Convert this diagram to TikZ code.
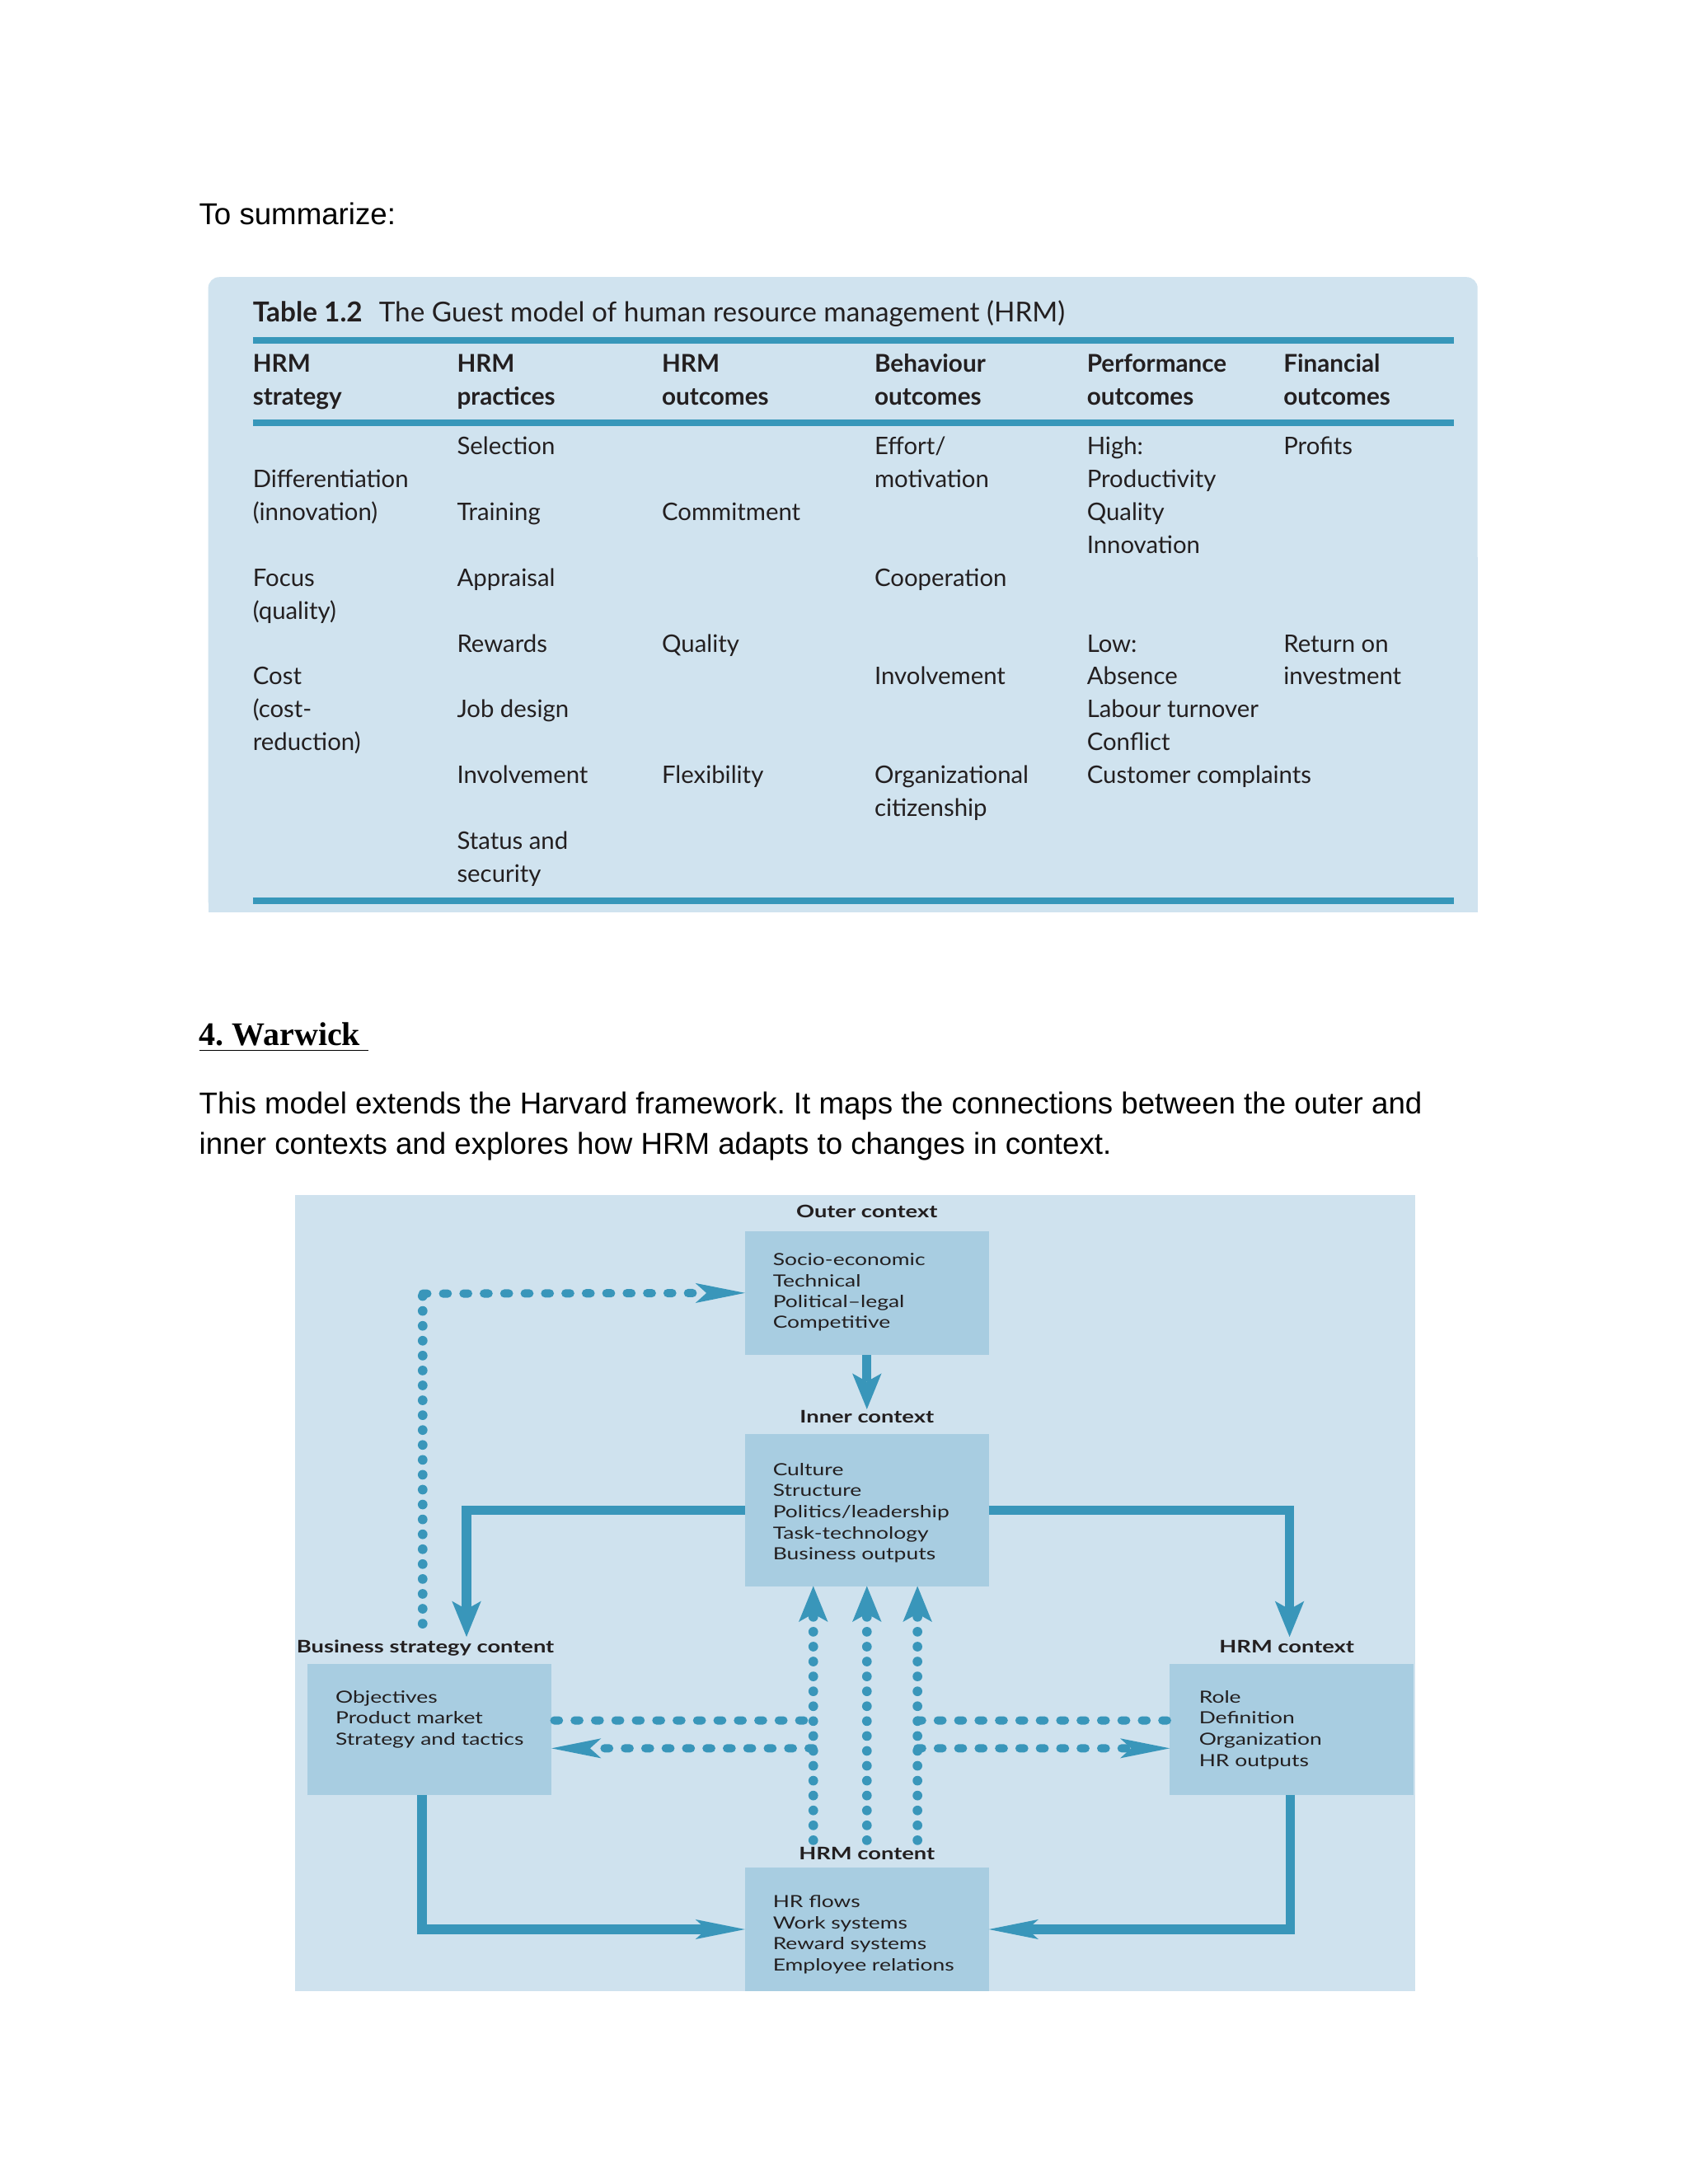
\documentclass[tikz,border=0pt]{standalone}
\usepackage{fontspec}
\setmainfont{Liberation Sans}
\newfontfamily\serifb{Liberation Serif}
\newfontfamily\tabf{Lato}
\newfontfamily\dfont[FakeStretch=1.3]{Lato}
\usetikzlibrary{arrows.meta,calc}
\frenchspacing
\definecolor{tabbg}{RGB}{208,227,239}
\definecolor{diagbg}{RGB}{207,226,238}
\definecolor{boxc}{RGB}{168,205,225}
\definecolor{linec}{RGB}{57,150,186}
\definecolor{rulec}{RGB}{55,151,186}
\definecolor{tdark}{RGB}{35,31,32}
\tikzset{
  vtip/.tip={Stealth[length=13bp,width=10.6bp,inset=3bp,line width=0pt]},
  htip/.tip={Stealth[length=18bp,width=7.2bp,inset=4bp,line width=0pt]},
}
\begin{document}
\begin{tikzpicture}[x=0.50495bp,y=-0.50495bp,
  mt/.style={inner sep=0pt, outer sep=0pt, anchor=base west, font=\fontsize{11}{13}\selectfont},
  tt/.style={inner sep=0pt, outer sep=0pt, anchor=base west, text=tdark, font=\tabf\fontsize{8.8}{11}\selectfont},
  th/.style={tt, font=\tabf\bfseries\fontsize{8.9}{11}\selectfont},
  dl/.style={inner sep=0pt, outer sep=0pt, anchor=base, text=tdark, font=\dfont\bfseries\fontsize{6.3}{7}\selectfont},
  dbox/.style={fill=boxc, inner sep=0pt, outer sep=0pt, minimum width=88.37bp},
  dtx/.style={inner sep=0pt, outer sep=0pt, anchor=base west, text=tdark, font=\dfont\fontsize{6.1}{7}\selectfont},
  sline/.style={draw=linec, line width=3.4bp},
  hdot/.style={draw=linec, line width=3bp, line cap=round, dash pattern=on 1.7bp off 5.7bp},
  vdot/.style={draw=linec, line width=3.5bp, line cap=round, dash pattern=on 0bp off 5.4bp},
  trule/.style={draw=rulec, line width=2.5bp}
]
\useasboundingbox (0,0) rectangle (1212,1568.4);
\fill[white] (0,0) rectangle (1212,1568.4);

% ---------- page text ----------
\node[mt] (summ) at (143,161) {To summarize:};
\node[mt, font=\serifb\bfseries\fontsize{12}{14}\selectfont] (warhd) at (143,751) {\underline{4. Warwick\ }};
\node[mt] (para1) at (143,800) {This model extends the Harvard framework. It maps the connections between the outer and};
\node[mt] (para2) at (143,829) {inner contexts and explores how HRM adapts to changes in context.};

% ---------- table ----------
\fill[tabbg, rounded corners=4bp] (149.5,199) rectangle (1061,655);
\fill[tabbg] (149.5,400) rectangle (1061,655);
\node[tt, font=\tabf\fontsize{10}{12}\selectfont] (ttitle) at (181.6,231)
  {\textbf{Table 1.2}\hspace{0.6em}The Guest model of human resource management (HRM)};
\draw[trule] (181.6,244.5) -- (1044,244.5);
\draw[trule] (181.6,303.8) -- (1044,303.8);
\draw[trule] (181.6,647) -- (1044,647);
\foreach \c/\a/\b [count=\n] in {181.6/HRM/strategy, 328.2/HRM/practices, 475.3/HRM/outcomes,
   628/Behaviour/outcomes, 780.5/Performance/outcomes, 921.7/Financial/outcomes}{
  \node[th] (ha\n) at (\c,267.5) {\a};
  \node[th] (hb\n) at (\c,291) {\b};
}
\foreach \c/\k/\t [count=\n] in {
  181.6/1/Differentiation, 181.6/2/(innovation), 181.6/4/Focus, 181.6/5/(quality),
  181.6/7/Cost, 181.6/8/(cost-, 181.6/9/reduction),
  328.2/0/Selection, 328.2/2/Training, 328.2/4/Appraisal, 328.2/6/Rewards,
  328.2/8/Job design, 328.2/10/Involvement, 328.2/12/Status and, 328.2/13/security,
  475.3/2/Commitment, 475.3/6/Quality, 475.3/10/Flexibility,
  628/0/{Effort/}, 628/1/motivation, 628/4/Cooperation, 628/7/Involvement,
  628/10/Organizational, 628/11/citizenship,
  780.5/0/High:, 780.5/1/Productivity, 780.5/2/Quality, 780.5/3/Innovation,
  780.5/6/Low:, 780.5/7/Absence, 780.5/8/Labour turnover, 780.5/9/Conflict,
  780.5/10/Customer complaints,
  921.7/0/Profits, 921.7/6/Return on, 921.7/7/investment}{
  \node[tt] (tb\n) at (\c,326.6+23.6*\k) {\t};
}

% ---------- Warwick diagram ----------
\fill[diagbg] (212,858) rectangle (1016,1430);

\node[dbox, minimum height=44.94bp] (outer) at (622.5,928.5) {};
\node[dbox, minimum height=55.04bp] (inner) at (622.5,1084.5) {};
\node[dbox, minimum height=47.47bp] (bsc) at (308.5,1242) {};
\node[dbox, minimum height=47.47bp] (hctx) at (927.5,1242) {};
\node[dbox, minimum height=44.94bp] (hcont) at (622.5,1385.5) {};

\node[dl] (outerlbl) at (622.5,874.5) {Outer context};
\node[dl] (innerlbl) at (622.5,1022) {Inner context};
\node[dl, anchor=base west] (bsclbl) at (213,1187) {Business strategy content};
\node[dl] (hctxlbl) at (924,1187) {HRM context};
\node[dl] (hcontlbl) at (622.5,1335.5) {HRM content};

\node[dtx] (o1) at (555,909) {Socio-economic};
\node[dtx] (o2) at (555,924) {Technical};
\node[dtx] (o3) at (555,939) {Political–legal};
\node[dtx] (o4) at (555,954) {Competitive};

\node[dtx] (i1) at (555,1059.7) {Culture};
\node[dtx] (i2) at (555,1074.7) {Structure};
\node[dtx] (i3) at (555,1089.8) {Politics/leadership};
\node[dtx] (i4) at (555,1105) {Task-technology};
\node[dtx] (i5) at (555,1120) {Business outputs};

\node[dtx] (b1) at (241,1222.8) {Objectives};
\node[dtx] (b2) at (241,1238) {Product market};
\node[dtx] (b3) at (241,1253.4) {Strategy and tactics};

\node[dtx] (h1) at (861,1222.8) {Role};
\node[dtx] (h2) at (861,1238) {Definition};
\node[dtx] (h3) at (861,1253.4) {Organization};
\node[dtx] (h4) at (861,1268.6) {HR outputs};

\node[dtx] (c1) at (555,1369.8) {HR flows};
\node[dtx] (c2) at (555,1385) {Work systems};
\node[dtx] (c3) at (555,1400) {Reward systems};
\node[dtx] (c4) at (555,1415.5) {Employee relations};

% solid connectors
\coordinate (innerin) at (622.5,1012);
\draw[sline, -{vtip}] (outer.south) -- (innerin);
\coordinate (bscin) at (335,1175.5);
\coordinate (hctxin) at (926,1175.5);
\draw[sline, -{vtip}] (inner.west) -| (bscin);
\draw[sline, -{vtip}] (inner.east) -| (hctxin);
\draw[sline, -{htip}] ($(bsc.south west)+(82,0)$) |- (hcont.west);
\draw[sline, -{htip}] ($(hctx.south west)+(86.5,0)$) |- (hcont.east);

% dotted connectors
\coordinate (dcorner) at (303.5,929);
\draw[vdot] ($(bsc.north west)+(82.5,-29)$) -- (dcorner);
\draw[hdot, -{htip}] (dcorner) -- (outer.west);
\foreach \dx in {-38.5,0,36.3}{
  \draw[vdot, -{vtip}] ($(hcontlbl.north)+(\dx,-5)$) -- ($(inner.south)+(\dx,0)$);
}
\coordinate (jl1) at (584,1235.5);
\coordinate (jl2) at (584,1255.5);
\coordinate (jr1) at (658.8,1235.5);
\coordinate (jr2) at (658.8,1255.5);
\draw[hdot] ($(bsc.north east)+(2,40.5)$) -- (jl1);
\draw[hdot, -{htip}] (jl2) -- ($(bsc.north east)+(0,60.5)$);
\draw[hdot] ($(hctx.north west)+(-2,40.5)$) -- (jr1);
\draw[hdot, -{htip}] (jr2) -- ($(hctx.north west)+(0,60.5)$);
\end{tikzpicture}
\end{document}
